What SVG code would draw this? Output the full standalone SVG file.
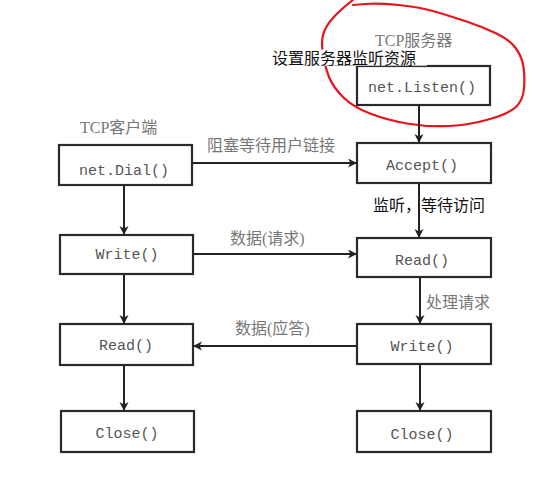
<svg xmlns="http://www.w3.org/2000/svg" width="540" height="477" viewBox="0 0 540 477">
<style>
.box{fill:#fff;stroke:#2a2a2a;stroke-width:2.2}
.code{font-family:"Liberation Mono","DejaVu Sans Mono",monospace;font-size:15px;fill:#555;text-anchor:middle}
.lbl{font-family:"Liberation Serif","Noto Sans CJK SC",serif;font-size:16px;fill:#777}
.blk{font-family:"Noto Sans CJK SC","Noto Sans",sans-serif;font-size:16px;fill:#111}
.conn{stroke:#222;stroke-width:2;fill:none}
</style>
<defs>
<marker id="arr" markerUnits="userSpaceOnUse" markerWidth="10" markerHeight="10" refX="9" refY="4.5" orient="auto">
<path d="M0,0 L9,4.5 L0,9 L2.5,4.5 z" fill="#222"/>
</marker>
</defs>
<rect width="540" height="477" fill="#fff"/>

<path id="red-mark" d="M353,0 Q340,10 332.5,18.5 Q325,27 323,35 Q321,43 323,55 Q325,67 329,77 Q333,87 343,97 Q353,107 370,113.5 Q387,120 407,123.5 Q427,127 448.5,126 Q470,125 490,119 Q510,113 516.5,106.5 Q523,100 524,88.5 Q525,77 523.5,67 Q522,57 516,48.5 Q510,40 496.5,33.5 Q483,27 468,22 Q453,17 436.5,12 Q420,7 398.5,5 Q377,3 365,4 L353,5" fill="none" stroke="#e8141b" stroke-width="2.2" stroke-linecap="round" stroke-linejoin="round"/>

<g id="connectors">
<line class="conn" x1="419" y1="105" x2="419" y2="143" marker-end="url(#arr)"/>
<line class="conn" x1="192" y1="163" x2="357" y2="163" marker-end="url(#arr)"/>
<line class="conn" x1="124" y1="185" x2="124" y2="235" marker-end="url(#arr)"/>
<line class="conn" x1="419" y1="183" x2="419" y2="238" marker-end="url(#arr)"/>
<line class="conn" x1="193" y1="254" x2="357" y2="254" marker-end="url(#arr)"/>
<line class="conn" x1="124" y1="274" x2="124" y2="324" marker-end="url(#arr)"/>
<line class="conn" x1="420" y1="277" x2="420" y2="324" marker-end="url(#arr)"/>
<line class="conn" x1="357" y1="346" x2="193" y2="346" marker-end="url(#arr)"/>
<line class="conn" x1="124" y1="365" x2="124" y2="411" marker-end="url(#arr)"/>
<line class="conn" x1="420" y1="364" x2="420" y2="411" marker-end="url(#arr)"/>
<text class="lbl" x="207" y="151">阻塞等待用户链接</text>
<text class="blk" x="373" y="211" font-size="16.5">监听，等待访问</text>
<text class="lbl" x="230" y="244">数据(请求)</text>
<text class="lbl" x="426" y="307.5" font-size="15.5">处理请求</text>
<text class="lbl" x="235" y="334">数据(应答)</text>
</g>

<g id="titles">
<text class="lbl" x="375" y="46" font-size="16">TCP服务器</text>
<text class="lbl" x="80" y="133" font-size="16.5">TCP客户端</text>
</g>

<g id="listen"><rect class="box" x="357" y="66" width="133" height="39"/><text class="code" x="422" y="92">net.Listen()</text></g>
<g id="accept"><rect class="box" x="357" y="143" width="134" height="40"/><text class="code" x="422" y="170">Accept()</text></g>
<g id="server-read"><rect class="box" x="357" y="238" width="134" height="39"/><text class="code" x="422" y="265">Read()</text></g>
<g id="server-write"><rect class="box" x="357" y="324" width="134" height="40"/><text class="code" x="422" y="351">Write()</text></g>
<g id="server-close"><rect class="box" x="357" y="411" width="134" height="41"/><text class="code" x="422" y="439">Close()</text></g>
<g id="client-dial"><rect class="box" x="59" y="145" width="133" height="40"/><text class="code" x="124" y="175">net.Dial()</text></g>
<g id="client-write"><rect class="box" x="60" y="235" width="133" height="39"/><text class="code" x="127" y="259">Write()</text></g>
<g id="client-read"><rect class="box" x="60" y="324" width="133" height="41"/><text class="code" x="126" y="350">Read()</text></g>
<g id="client-close"><rect class="box" x="61" y="411" width="133" height="41"/><text class="code" x="127" y="438">Close()</text></g>

<g id="note">
<rect x="270" y="49.5" width="157" height="16" fill="#fff"/>
<line x1="325" y1="65.5" x2="427" y2="65.5" stroke="#bbb" stroke-width="1"/>
<text class="blk" x="272" y="64" font-size="15.8">设置服务器监听资源</text>
</g>
</svg>
